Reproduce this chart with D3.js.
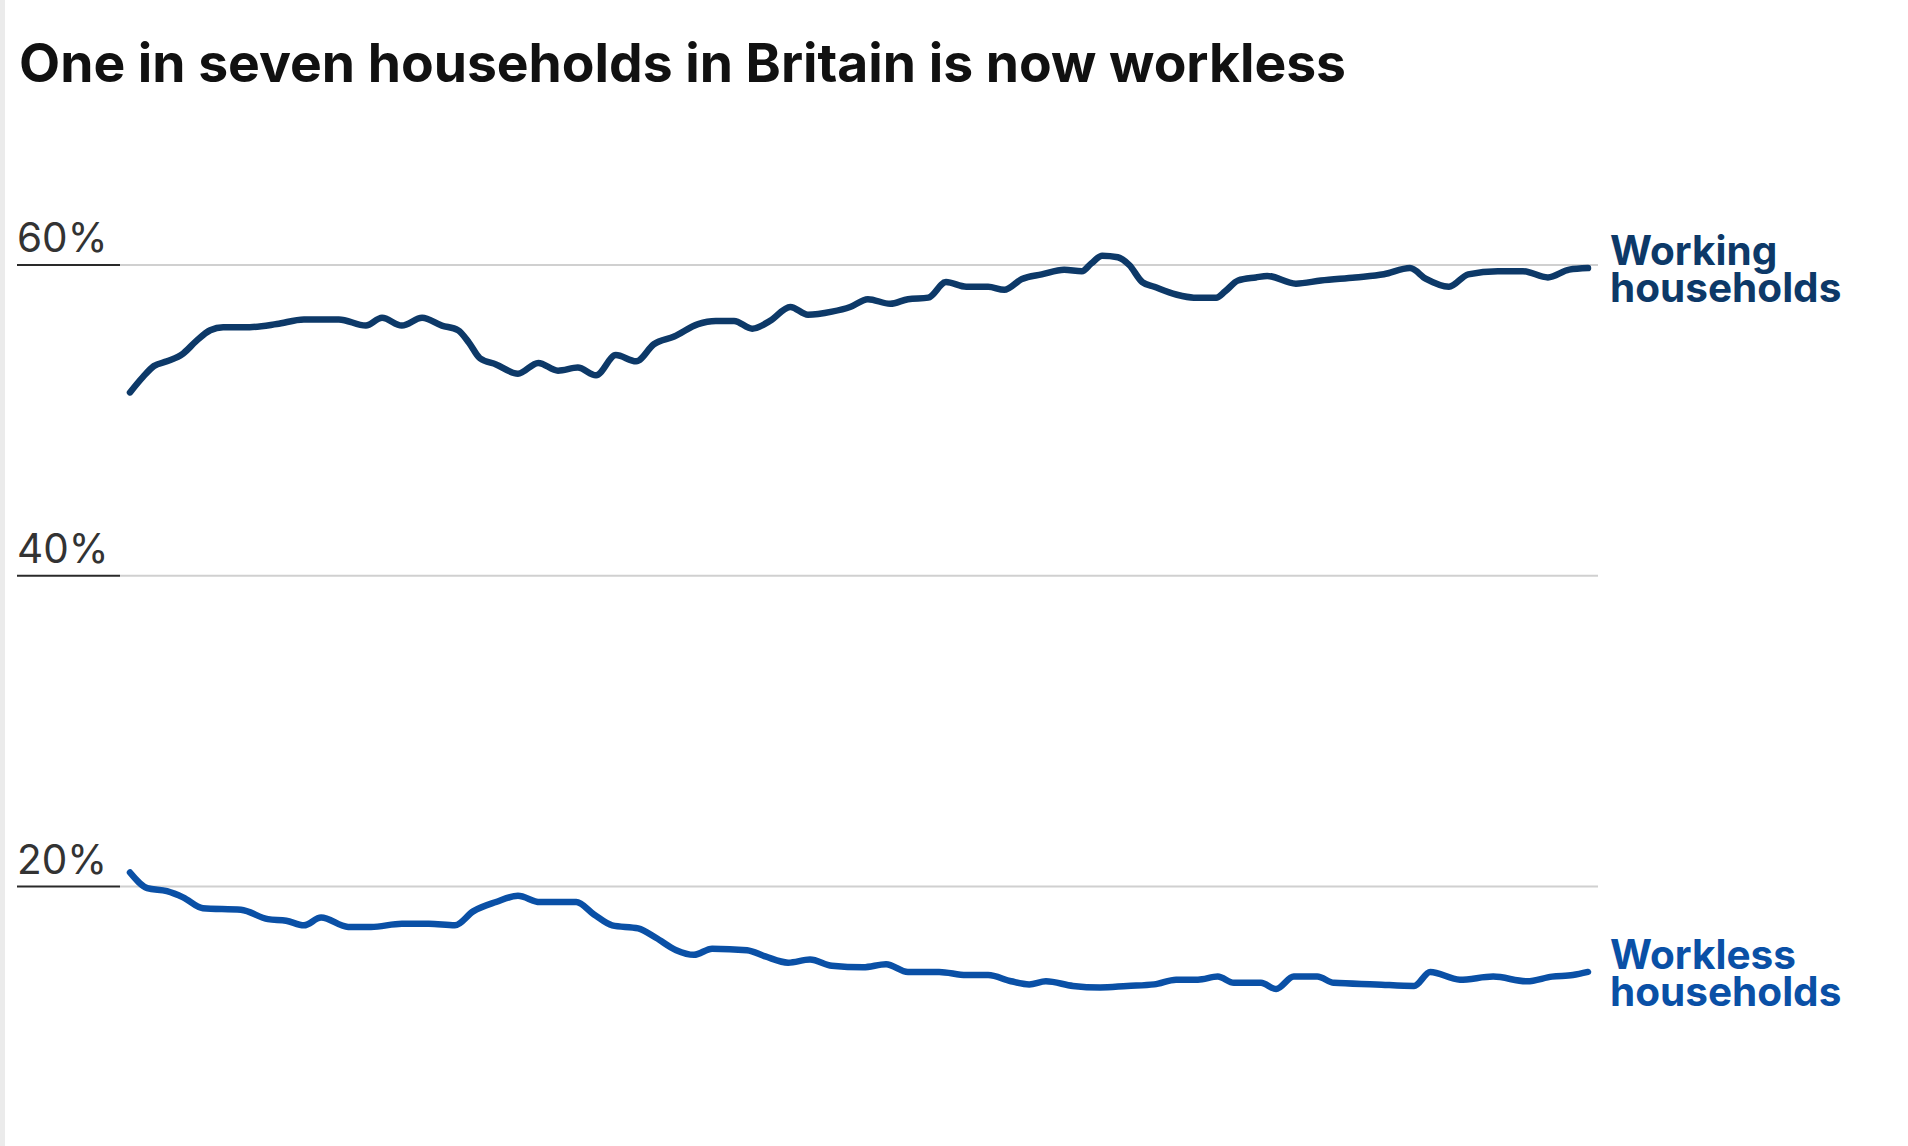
<!DOCTYPE html>
<html>
<head>
<meta charset="utf-8">
<script src="https://cdn.jsdelivr.net/npm/d3@7"></script>
<style>
  body { margin: 0; background: #fff; }
  #chart { position: relative; }
</style>
</head>
<body>
<div id="chart"></div>
<script>
// Data (share of households, %), x in decimal years
var workingYears = [1996.25, 1996.50, 1996.71, 1996.96, 1997.27, 1997.52, 1997.79, 1998.04, 1998.55, 1999.07,
  1999.59, 2000.26, 2000.78, 2001.09, 2001.47, 2001.86, 2002.24, 2002.55, 2002.76, 2002.97,
  2003.28, 2003.70, 2004.09, 2004.47, 2004.85, 2005.20, 2005.58, 2005.97, 2006.31, 2006.70,
  2007.16, 2007.50, 2007.85, 2008.20, 2008.54, 2008.93, 2009.27, 2009.73, 2010.08, 2010.42,
  2010.85, 2011.19, 2011.58, 2011.92, 2012.31, 2012.73, 2013.04, 2013.38, 2013.76, 2014.19,
  2014.53, 2014.71, 2014.92, 2015.22, 2015.44, 2015.69, 2015.92, 2016.34, 2016.68, 2017.11,
  2017.28, 2017.53, 2017.87, 2018.09, 2018.64, 2019.12, 2019.78, 2020.33, 2020.83, 2021.14,
  2021.58, 2021.95, 2022.52, 2023.00, 2023.48, 2023.89, 2024.25];
var workingValues = [51.8, 52.8, 53.5, 53.8, 54.3, 55.1, 55.8, 56.0, 56.0, 56.2,
  56.5, 56.5, 56.1, 56.6, 56.1, 56.6, 56.1, 55.8, 55.0, 54.0,
  53.6, 53.0, 53.7, 53.2, 53.4, 52.9, 54.2, 53.8, 54.9, 55.4,
  56.2, 56.4, 56.4, 55.9, 56.4, 57.3, 56.8, 57.0, 57.3, 57.8,
  57.5, 57.8, 57.9, 58.9, 58.6, 58.6, 58.4, 59.1, 59.4, 59.7,
  59.6, 60.1, 60.6, 60.5, 60.0, 58.9, 58.6, 58.1, 57.9, 57.9,
  58.3, 59.0, 59.2, 59.3, 58.8, 59.0, 59.2, 59.4, 59.8, 59.1,
  58.6, 59.4, 59.6, 59.6, 59.2, 59.7, 59.8];

var worklessYears = [1996.25, 1996.58, 1996.96, 1997.27, 1997.65, 1998.38, 1998.90, 1999.25, 1999.59, 1999.92,
  2000.44, 2000.88, 2001.47, 2001.99, 2002.49, 2002.84, 2003.28, 2003.70, 2004.12, 2004.82,
  2005.16, 2005.51, 2006.01, 2006.35, 2006.74, 2007.08, 2007.43, 2008.10, 2008.45, 2008.89,
  2009.31, 2009.73, 2010.33, 2010.77, 2011.19, 2011.79, 2012.31, 2012.73, 2013.17, 2013.52,
  2013.84, 2014.36, 2014.88, 2015.40, 2015.92, 2016.34, 2016.76, 2017.14, 2017.45, 2017.97,
  2018.26, 2018.60, 2019.05, 2019.37, 2020.18, 2020.91, 2021.22, 2021.79, 2022.43, 2023.08,
  2023.56, 2023.96, 2024.25];
var worklessValues = [20.9, 19.9, 19.7, 19.3, 18.6, 18.5, 17.9, 17.8, 17.5, 18.0,
  17.4, 17.4, 17.6, 17.6, 17.5, 18.4, 19.0, 19.4, 19.0, 19.0,
  18.2, 17.5, 17.3, 16.7, 15.9, 15.6, 16.0, 15.9, 15.5, 15.1,
  15.3, 14.9, 14.8, 15.0, 14.5, 14.5, 14.3, 14.3, 13.9, 13.7,
  13.9, 13.6, 13.5, 13.6, 13.7, 14.0, 14.0, 14.2, 13.8, 13.8,
  13.4, 14.2, 14.2, 13.8, 13.7, 13.6, 14.5, 14.0, 14.2, 13.9,
  14.2, 14.3, 14.5];

var tickValues = [20, 40, 60];
var seriesNames = ["Working", "Workless"];
var seriesColors = ["#0d3968", "#0a50a6"];

// set the dimensions of the graph
var width = 1908,
    height = 1146;

var svg = d3.select("#chart")
  .append("svg")
    .attr("width", width)
    .attr("height", height);

svg.append("rect")
  .attr("width", width).attr("height", height).attr("fill", "#fff");
// thin grey strip on the left edge
svg.append("rect")
  .attr("x", 0).attr("y", 0).attr("width", 5).attr("height", height)
  .attr("fill", "#ebebeb");

// title
svg.append("text")
  .attr("x", 19)
  .attr("y", 82)
  .attr("font-family", "Inter, 'Noto Sans', sans-serif")
  .attr("font-weight", 700)
  .attr("font-size", 53.4)
  .attr("fill", "#111")
  .text("One in seven households in Britain is now workless");

// scales
var x = d3.scaleLinear()
  .domain([1996.25, 2024.25])
  .range([130, 1588]);

var y = d3.scaleLinear()
  .domain([20, 60])
  .range([886.5, 265]);

// grid lines + labels
var grid = svg.append("g")
  .selectAll("g")
  .data(tickValues)
  .enter()
  .append("g")
    .attr("transform", function(d) { return "translate(0," + y(d) + ")"; });

grid.append("line")
  .attr("x1", 120).attr("x2", 1598)
  .attr("stroke", "#d0d0d0")
  .attr("stroke-width", 2);

grid.append("line")
  .attr("x1", 17).attr("x2", 120)
  .attr("stroke", "#2a2a2a")
  .attr("stroke-width", 2.2);

grid.append("text")
  .attr("x", 17)
  .attr("y", -13)
  .attr("font-family", "Inter, 'Noto Sans', sans-serif")
  .attr("font-weight", 400)
  .attr("font-size", 40.5)
  .attr("fill", "#333")
  .text(function(d) { return d + "%"; });

// build the series
var series = [
  { name: seriesNames[0], color: seriesColors[0],
    values: workingYears.map(function(t, i) { return { time: t, value: workingValues[i] }; }) },
  { name: seriesNames[1], color: seriesColors[1],
    values: worklessYears.map(function(t, i) { return { time: t, value: worklessValues[i] }; }) }
];

var line = d3.line()
  .curve(d3.curveMonotoneX)
  .x(function(d) { return x(d.time); })
  .y(function(d) { return y(d.value); });

svg.selectAll("path.series")
  .data(series)
  .enter()
  .append("path")
    .attr("class", "series")
    .attr("d", function(d) { return line(d.values); })
    .attr("fill", "none")
    .attr("stroke", function(d) { return d.color; })
    .attr("stroke-width", 6.5)
    .attr("stroke-linejoin", "round")
    .attr("stroke-linecap", "round");

// labels at the end of each line
var labels = svg.selectAll("text.label")
  .data(series)
  .enter()
  .append("text")
    .attr("class", "label")
    .attr("font-family", "Inter, 'Noto Sans', sans-serif")
    .attr("font-weight", 700)
    .attr("font-size", 40.5)
    .attr("fill", function(d) { return d.color; })
    .attr("transform", function(d) {
      var last = d.values[d.values.length - 1];
      return "translate(" + (x(last.time) + 22) + "," + (y(last.value) - 3) + ")";
    });

labels.append("tspan")
  .attr("x", 0).attr("y", 0)
  .text(function(d) { return d.name; });
labels.append("tspan")
  .attr("x", 0).attr("y", 37)
  .text("households");
</script>
</body>
</html>
